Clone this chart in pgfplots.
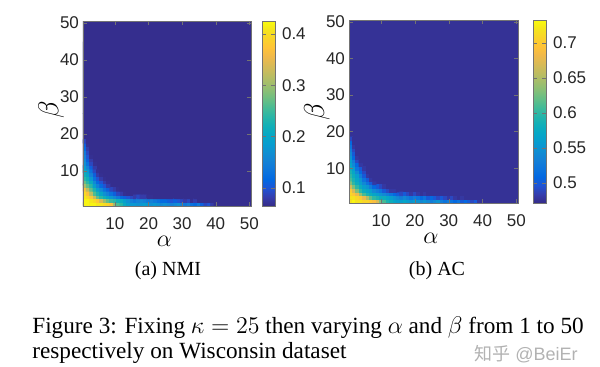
\documentclass[border=0pt]{standalone}
\usepackage{fontspec}
\setmainfont{Liberation Serif}
\setsansfont{Liberation Sans}
\newfontfamily\cjk{Noto Sans CJK SC}
\usepackage{pgfplots}
\pgfplotsset{compat=1.18}
\pgfplotsset{
  colormap={parula}{
    rgb=(0.2081,0.1663,0.5292) rgb=(0.2081,0.2386,0.6771) rgb=(0.1253,0.3242,0.8303)
    rgb=(0.0060,0.4086,0.8828) rgb=(0.0498,0.4586,0.8641) rgb=(0.0779,0.5040,0.8384)
    rgb=(0.0641,0.5570,0.8240) rgb=(0.0265,0.6137,0.8135) rgb=(0.0228,0.6535,0.7768)
    rgb=(0.0590,0.6838,0.7254) rgb=(0.1453,0.7098,0.6646) rgb=(0.2586,0.7317,0.5954)
    rgb=(0.3953,0.7459,0.5244) rgb=(0.5300,0.7491,0.4661) rgb=(0.6473,0.7456,0.4188)
    rgb=(0.7525,0.7384,0.3768) rgb=(0.8507,0.7299,0.3360) rgb=(0.9450,0.7261,0.2886)
    rgb=(0.9990,0.7653,0.2164) rgb=(0.9789,0.8271,0.1633) rgb=(0.9589,0.8949,0.1132)
    rgb=(0.9763,0.9831,0.0538)},
  hm/.style={
    scale only axis, axis on top, enlargelimits=false,
    xmin=0.5, xmax=50.5, ymin=0.5, ymax=50.5,
    xtick={10,20,30,40,50}, ytick={10,20,30,40,50},
    tick align=inside, major tick length=2pt,
    axis line style={black!55}, tick style={black!55},
    ticklabel style={font=\sffamily\fontsize{8.5}{9}\selectfont, text=black!85},
    xticklabel style={yshift=-2.5pt},
    yticklabel style={xshift=1.5pt},
    /pgf/number format/assume math mode=true,
    colormap name=parula,
    colorbar,
    colorbar shift/.style={xshift=5.5pt},
    xlabel style={at={(axis description cs:0.485,0)}, anchor=center, yshift=-17.5pt, font=\large},
    ylabel style={at={(axis description cs:-0.19,0.52)}, anchor=center, font=\Large},
  },
  cb/.style={
    width=6.5pt,
    at={(parent axis.north east)}, anchor=north west,
    tick align=inside, major tick length=2pt,
    axis line style={black!55}, tick style={black!55},
    scaled y ticks=false,
    yticklabel style={font=\sffamily\fontsize{8.5}{9}\selectfont, text=black!85,
      /pgf/number format/fixed, /pgf/number format/precision=2,
      /pgf/number format/assume math mode=true},
  }
}
\begin{document}
\begin{tikzpicture}
\useasboundingbox (0,0) rectangle (300pt,183pt);
% ---------------- (a) NMI ----------------
\begin{axis}[hm, at={(41.5pt,80pt)}, anchor=south west, width=84pt, height=92.5pt,
  point meta min=0.065, point meta max=0.425,
  xlabel={$\alpha$}, ylabel={$\beta$},
  colorbar style={cb, ytick={0.1,0.2,0.3,0.4}}]
% background cells
\addplot[matrix plot*, mesh/cols=2, point meta=explicit] coordinates {
(13,13) [0.068] (38,13) [0.068] (13,38) [0.068] (38,38) [0.068] };
% alpha 1..15, beta 1..5
\addplot[matrix plot*, mesh/cols=15, point meta=explicit] coordinates {
(1,1)[0.42] (2,1)[0.42] (3,1)[0.42] (4,1)[0.42] (5,1)[0.41] (6,1)[0.41] (7,1)[0.40] (8,1)[0.39] (9,1)[0.37] (10,1)[0.30] (11,1)[0.26] (12,1)[0.24] (13,1)[0.21] (14,1)[0.19] (15,1)[0.18]
(1,2)[0.42] (2,2)[0.42] (3,2)[0.41] (4,2)[0.40] (5,2)[0.38] (6,2)[0.34] (7,2)[0.30] (8,2)[0.27] (9,2)[0.25] (10,2)[0.24] (11,2)[0.22] (12,2)[0.21] (13,2)[0.19] (14,2)[0.17] (15,2)[0.15]
(1,3)[0.41] (2,3)[0.40] (3,3)[0.38] (4,3)[0.33] (5,3)[0.27] (6,3)[0.24] (7,3)[0.22] (8,3)[0.20] (9,3)[0.18] (10,3)[0.16] (11,3)[0.14] (12,3)[0.12] (13,3)[0.11] (14,3)[0.10] (15,3)[0.09]
(1,4)[0.40] (2,4)[0.37] (3,4)[0.32] (4,4)[0.26] (5,4)[0.23] (6,4)[0.20] (7,4)[0.17] (8,4)[0.15] (9,4)[0.13] (10,4)[0.11] (11,4)[0.09] (12,4)[0.08] (13,4)[0.07] (14,4)[0.068] (15,4)[0.068]
(1,5)[0.37] (2,5)[0.32] (3,5)[0.27] (4,5)[0.23] (5,5)[0.19] (6,5)[0.16] (7,5)[0.13] (8,5)[0.11] (9,5)[0.09] (10,5)[0.08] (11,5)[0.07] (12,5)[0.068] (13,5)[0.068] (14,5)[0.068] (15,5)[0.068]
};
% alpha 1..8, beta 6..10
\addplot[matrix plot*, mesh/cols=8, point meta=explicit] coordinates {
(1,6)[0.31] (2,6)[0.27] (3,6)[0.24] (4,6)[0.19] (5,6)[0.15] (6,6)[0.12] (7,6)[0.10] (8,6)[0.08]
(1,7)[0.27] (2,7)[0.24] (3,7)[0.21] (4,7)[0.16] (5,7)[0.12] (6,7)[0.10] (7,7)[0.08] (8,7)[0.07]
(1,8)[0.24] (2,8)[0.22] (3,8)[0.18] (4,8)[0.13] (5,8)[0.10] (6,8)[0.08] (7,8)[0.07] (8,8)[0.068]
(1,9)[0.22] (2,9)[0.20] (3,9)[0.15] (4,9)[0.11] (5,9)[0.08] (6,9)[0.07] (7,9)[0.068] (8,9)[0.068]
(1,10)[0.21] (2,10)[0.18] (3,10)[0.13] (4,10)[0.09] (5,10)[0.07] (6,10)[0.068] (7,10)[0.068] (8,10)[0.068]
};
% alpha 1..4, beta 11..18
\addplot[matrix plot*, mesh/cols=4, point meta=explicit] coordinates {
(1,11)[0.19] (2,11)[0.15] (3,11)[0.11] (4,11)[0.08]
(1,12)[0.17] (2,12)[0.13] (3,12)[0.09] (4,12)[0.07]
(1,13)[0.16] (2,13)[0.11] (3,13)[0.08] (4,13)[0.068]
(1,14)[0.15] (2,14)[0.10] (3,14)[0.07] (4,14)[0.068]
(1,15)[0.14] (2,15)[0.09] (3,15)[0.068] (4,15)[0.068]
(1,16)[0.12] (2,16)[0.08] (3,16)[0.068] (4,16)[0.068]
(1,17)[0.11] (2,17)[0.07] (3,17)[0.068] (4,17)[0.068]
(1,18)[0.09] (2,18)[0.068] (3,18)[0.068] (4,18)[0.068]
};
% alpha 16..40, beta 1..3
\addplot[matrix plot*, mesh/cols=25, point meta=explicit] coordinates {
(16,1)[0.18] (17,1)[0.17] (18,1)[0.18] (19,1)[0.19] (20,1)[0.18] (21,1)[0.17] (22,1)[0.18] (23,1)[0.17] (24,1)[0.16] (25,1)[0.17] (26,1)[0.16] (27,1)[0.15] (28,1)[0.16] (29,1)[0.17] (30,1)[0.15] (31,1)[0.14] (32,1)[0.15] (33,1)[0.13] (34,1)[0.12] (35,1)[0.14] (36,1)[0.11] (37,1)[0.09] (38,1)[0.10] (39,1)[0.08] (40,1)[0.068]
(16,2)[0.14] (17,2)[0.15] (18,2)[0.16] (19,2)[0.15] (20,2)[0.14] (21,2)[0.15] (22,2)[0.14] (23,2)[0.13] (24,2)[0.12] (25,2)[0.12] (26,2)[0.11] (27,2)[0.10] (28,2)[0.11] (29,2)[0.10] (30,2)[0.09] (31,2)[0.08] (32,2)[0.09] (33,2)[0.07] (34,2)[0.08] (35,2)[0.068] (36,2)[0.068] (37,2)[0.068] (38,2)[0.068] (39,2)[0.068] (40,2)[0.068]
(16,3)[0.08] (17,3)[0.09] (18,3)[0.08] (19,3)[0.08] (20,3)[0.07] (21,3)[0.07] (22,3)[0.068] (23,3)[0.068] (24,3)[0.068] (25,3)[0.068] (26,3)[0.068] (27,3)[0.068] (28,3)[0.068] (29,3)[0.068] (30,3)[0.068] (31,3)[0.068] (32,3)[0.068] (33,3)[0.068] (34,3)[0.068] (35,3)[0.068] (36,3)[0.068] (37,3)[0.068] (38,3)[0.068] (39,3)[0.068] (40,3)[0.068]
};
\end{axis}
% ---------------- (b) AC ----------------
\begin{axis}[hm, at={(174.5pt,81.5pt)}, anchor=south west, width=84.5pt, height=91.5pt,
  point meta min=0.471, point meta max=0.733,
  xlabel={$\alpha$}, ylabel={$\beta$},
  xlabel style={at={(axis description cs:0.485,0)}},
  ylabel style={at={(axis description cs:-0.19,0.5)}},
  colorbar shift/.style={xshift=7.5pt},
  colorbar style={cb, ytick={0.5,0.55,0.6,0.65,0.7}}]
\addplot[matrix plot*, mesh/cols=2, point meta=explicit] coordinates {
(13,13) [0.476] (38,13) [0.476] (13,38) [0.476] (38,38) [0.476] };
\addplot[matrix plot*, mesh/cols=15, point meta=explicit] coordinates {
(1,1)[0.72] (2,1)[0.73] (3,1)[0.72] (4,1)[0.72] (5,1)[0.71] (6,1)[0.71] (7,1)[0.70] (8,1)[0.69] (9,1)[0.67] (10,1)[0.63] (11,1)[0.61] (12,1)[0.59] (13,1)[0.58] (14,1)[0.57] (15,1)[0.56]
(1,2)[0.72] (2,2)[0.72] (3,2)[0.71] (4,2)[0.70] (5,2)[0.68] (6,2)[0.65] (7,2)[0.62] (8,2)[0.60] (9,2)[0.59] (10,2)[0.58] (11,2)[0.58] (12,2)[0.57] (13,2)[0.56] (14,2)[0.55] (15,2)[0.54]
(1,3)[0.71] (2,3)[0.70] (3,3)[0.68] (4,3)[0.64] (5,3)[0.61] (6,3)[0.59] (7,3)[0.58] (8,3)[0.57] (9,3)[0.56] (10,3)[0.55] (11,3)[0.54] (12,3)[0.53] (13,3)[0.52] (14,3)[0.51] (15,3)[0.50]
(1,4)[0.70] (2,4)[0.67] (3,4)[0.63] (4,4)[0.60] (5,4)[0.58] (6,4)[0.57] (7,4)[0.56] (8,4)[0.54] (9,4)[0.53] (10,4)[0.52] (11,4)[0.50] (12,4)[0.49] (13,4)[0.48] (14,4)[0.48] (15,4)[0.476]
(1,5)[0.67] (2,5)[0.63] (3,5)[0.60] (4,5)[0.58] (5,5)[0.56] (6,5)[0.55] (7,5)[0.53] (8,5)[0.51] (9,5)[0.50] (10,5)[0.49] (11,5)[0.48] (12,5)[0.476] (13,5)[0.476] (14,5)[0.476] (15,5)[0.476]
};
\addplot[matrix plot*, mesh/cols=8, point meta=explicit] coordinates {
(1,6)[0.63] (2,6)[0.60] (3,6)[0.58] (4,6)[0.56] (5,6)[0.54] (6,6)[0.52] (7,6)[0.50] (8,6)[0.48]
(1,7)[0.61] (2,7)[0.59] (3,7)[0.57] (4,7)[0.55] (5,7)[0.52] (6,7)[0.50] (7,7)[0.48] (8,7)[0.476]
(1,8)[0.60] (2,8)[0.58] (3,8)[0.56] (4,8)[0.53] (5,8)[0.50] (6,8)[0.48] (7,8)[0.476] (8,8)[0.476]
(1,9)[0.59] (2,9)[0.57] (3,9)[0.54] (4,9)[0.51] (5,9)[0.49] (6,9)[0.476] (7,9)[0.476] (8,9)[0.476]
(1,10)[0.58] (2,10)[0.56] (3,10)[0.52] (4,10)[0.50] (5,10)[0.48] (6,10)[0.476] (7,10)[0.476] (8,10)[0.476]
};
\addplot[matrix plot*, mesh/cols=4, point meta=explicit] coordinates {
(1,11)[0.57] (2,11)[0.54] (3,11)[0.51] (4,11)[0.48]
(1,12)[0.56] (2,12)[0.53] (3,12)[0.49] (4,12)[0.476]
(1,13)[0.55] (2,13)[0.51] (3,13)[0.48] (4,13)[0.476]
(1,14)[0.54] (2,14)[0.50] (3,14)[0.476] (4,14)[0.476]
(1,15)[0.53] (2,15)[0.49] (3,15)[0.476] (4,15)[0.476]
(1,16)[0.52] (2,16)[0.48] (3,16)[0.476] (4,16)[0.476]
(1,17)[0.51] (2,17)[0.476] (3,17)[0.476] (4,17)[0.476]
(1,18)[0.49] (2,18)[0.476] (3,18)[0.476] (4,18)[0.476]
};
\addplot[matrix plot*, mesh/cols=25, point meta=explicit] coordinates {
(16,1)[0.56] (17,1)[0.57] (18,1)[0.56] (19,1)[0.55] (20,1)[0.56] (21,1)[0.55] (22,1)[0.54] (23,1)[0.55] (24,1)[0.54] (25,1)[0.53] (26,1)[0.54] (27,1)[0.55] (28,1)[0.53] (29,1)[0.52] (30,1)[0.53] (31,1)[0.52] (32,1)[0.51] (33,1)[0.52] (34,1)[0.50] (35,1)[0.51] (36,1)[0.50] (37,1)[0.49] (38,1)[0.50] (39,1)[0.48] (40,1)[0.476]
(16,2)[0.53] (17,2)[0.54] (18,2)[0.53] (19,2)[0.52] (20,2)[0.53] (21,2)[0.52] (22,2)[0.51] (23,2)[0.52] (24,2)[0.50] (25,2)[0.51] (26,2)[0.50] (27,2)[0.49] (28,2)[0.50] (29,2)[0.49] (30,2)[0.48] (31,2)[0.49] (32,2)[0.48] (33,2)[0.476] (34,2)[0.48] (35,2)[0.476] (36,2)[0.476] (37,2)[0.476] (38,2)[0.476] (39,2)[0.476] (40,2)[0.476]
(16,3)[0.49] (17,3)[0.50] (18,3)[0.49] (19,3)[0.48] (20,3)[0.49] (21,3)[0.48] (22,3)[0.476] (23,3)[0.48] (24,3)[0.476] (25,3)[0.476] (26,3)[0.476] (27,3)[0.476] (28,3)[0.476] (29,3)[0.476] (30,3)[0.476] (31,3)[0.476] (32,3)[0.476] (33,3)[0.476] (34,3)[0.476] (35,3)[0.476] (36,3)[0.476] (37,3)[0.476] (38,3)[0.476] (39,3)[0.476] (40,3)[0.476]
};
\end{axis}
% ---------------- captions ----------------
\node[anchor=base, font=\fontsize{10}{12}\selectfont] at (84pt,45.5pt) {(a) NMI};
\node[anchor=base, font=\fontsize{10}{12}\selectfont] at (218.5pt,45.5pt) {(b) AC};
\node[anchor=base west, inner sep=0pt, font=\fontsize{11.6}{13}\selectfont] at (16pt,16.5pt) {Figure 3: Fixing $\kappa=25$ then varying $\alpha$ and $\beta$ from 1 to 50};
\node[anchor=base west, inner sep=0pt, font=\fontsize{11.6}{13}\selectfont] at (16pt,4pt) {respectively on Wisconsin dataset};
\node[anchor=base east, inner sep=0pt, text=black!30, font=\sffamily\fontsize{9}{9}\selectfont] at (289pt,3pt) {{\cjk 知乎} @BeiEr};
\end{tikzpicture}
\end{document}
